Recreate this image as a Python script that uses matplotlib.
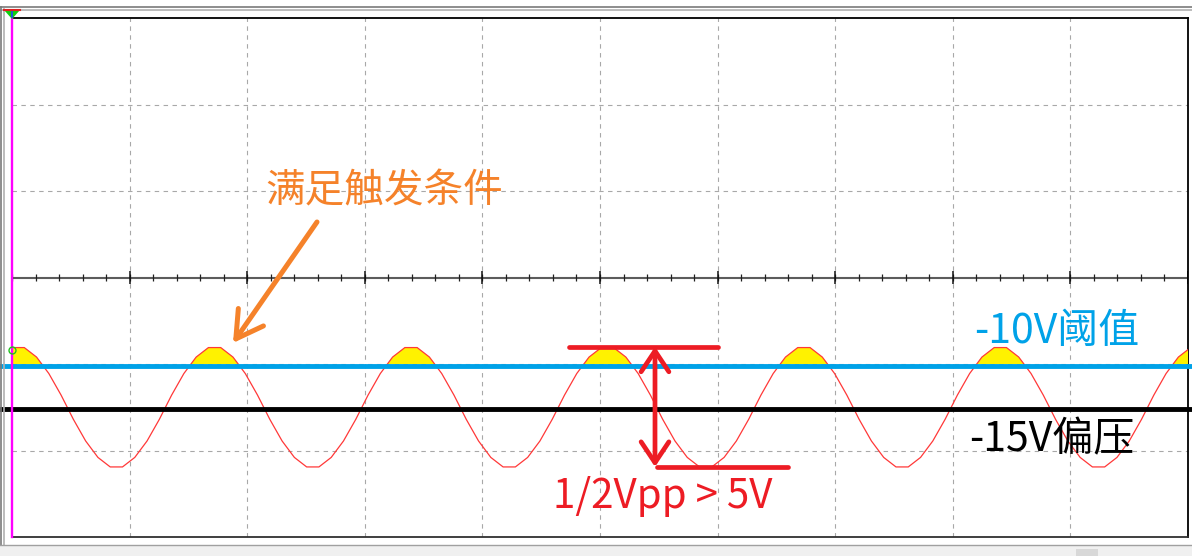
import numpy as np
import matplotlib
matplotlib.use('Agg')
import matplotlib.pyplot as plt
from matplotlib.patches import Rectangle, Polygon
from matplotlib.lines import Line2D

plt.rcParams['font.family'] = ['Noto Sans CJK SC', 'DejaVu Sans']

# scope screen: 10 divisions wide, 10 V/div, 0 V in the middle
x_divs = 10
v_per_div = 10
y_divs = 6

dt = 0.1044
wave_v = [
    -8.1, -8.1, -9.2, -11.1, -13.6, -16.4, -18.9, -20.8, -21.9, -21.9, -20.8, -18.9, -16.4, -13.6, -11.1, -9.2,
    -8.1, -8.1, -9.2, -11.1, -13.6, -16.4, -18.9, -20.8, -21.9, -21.9, -20.8, -18.9, -16.4, -13.6, -11.1, -9.2,
    -8.1, -8.1, -9.2, -11.1, -13.6, -16.4, -18.9, -20.8, -21.9, -21.9, -20.8, -18.9, -16.4, -13.6, -11.1, -9.2,
    -8.1, -8.1, -9.2, -11.1, -13.6, -16.4, -18.9, -20.8, -21.9, -21.9, -20.8, -18.9, -16.4, -13.6, -11.1, -9.2,
    -8.1, -8.1, -9.2, -11.1, -13.6, -16.4, -18.9, -20.8, -21.9, -21.9, -20.8, -18.9, -16.4, -13.6, -11.1, -9.2,
    -8.1, -8.1, -9.2, -11.1, -13.6, -16.4, -18.9, -20.8, -21.9, -21.9, -20.8, -18.9, -16.4, -13.6, -11.1, -9.2,
    -8.1,
]
threshold = -10.0
bias = -15.0
peak_v = -8.0
trough_v = -21.9

label_trigger = '满足触发条件'
label_threshold = '-10V阈值'
label_bias = '-15V偏压'
label_vpp = '1/2Vpp > 5V'

W, H = 1192, 556
fig = plt.figure(figsize=(W / 100, H / 100), dpi=100)
fig.patch.set_facecolor('white')


def fx(px):
    return px / W


def fy(py):
    return 1 - py / H


# window chrome
fig.add_artist(Line2D([0, 1], [fy(7), fy(7)], color='#7a7a7a', lw=1.2))
fig.add_artist(Line2D([0, 1], [fy(9.5), fy(9.5)], color='#b0b0b0', lw=1.2))
fig.add_artist(Line2D([fx(1), fx(1)], [fy(7), fy(545)], color='#7a7a7a', lw=1.2))
fig.add_artist(Line2D([fx(3.5), fx(3.5)], [fy(9), fy(545)], color='#b0b0b0', lw=1.2))
fig.add_artist(Rectangle((0, 0), 1, fy(545.5), transform=fig.transFigure,
                         facecolor='#f0f0f0', edgecolor='none'))
fig.add_artist(Line2D([0, 1], [fy(545), fy(545)], color='#a0a0a0', lw=1))
fig.add_artist(Rectangle((fx(1076), 0), fx(22), fy(549), transform=fig.transFigure,
                         facecolor='#d8d8d8', edgecolor='none'))

ax = fig.add_axes([fx(12), fy(537), fx(1176), (537 - 18) / H])
ax.set_xlim(0, x_divs)
ax.set_ylim(-v_per_div * y_divs / 2, v_per_div * y_divs / 2)
ax.set_xticks([])
ax.set_yticks([])
ax.spines['top'].set_color('black')
ax.spines['right'].set_color('black')
ax.spines['bottom'].set_color('#303030')
ax.spines['left'].set_color('#ff00ff')
for s in ax.spines.values():
    s.set_linewidth(1.3)
ax.spines['left'].set_linewidth(1.7)
ax.spines['left'].set_zorder(8)

# dashed grid
for i in range(1, x_divs):
    ax.axvline(i, color='#a8a8a8', lw=0.8, ls=(0, (4, 4)), zorder=1)
for j in range(1, y_divs // 2):
    ax.axhline(j * v_per_div, color='#a8a8a8', lw=0.8, ls=(0, (4, 4)), zorder=1)
    ax.axhline(-j * v_per_div, color='#a8a8a8', lw=0.8, ls=(0, (4, 4)), zorder=1)

# centre axis with ticks
ax.axhline(0, color='#5c5c5c', lw=1.5, zorder=2)
minor = np.arange(0, x_divs + 0.01, 0.2)
ax.vlines(minor, -0.35, 0.35, color='#202020', lw=0.9, zorder=2)
ax.vlines(np.arange(0, x_divs + 1), -0.75, 0.75, color='#101010', lw=1.1, zorder=2)

# waveform
t = np.arange(len(wave_v)) * dt
v = np.array(wave_v)
ax.fill_between(t, v, threshold, where=v > threshold, interpolate=True,
                color='#fff200', lw=0, zorder=3)
ax.plot(t, v, color='#ff3838', lw=0.9, zorder=4)

# threshold and bias lines span the whole window (hand-drawn, sit ~0.2 V low)
ax.plot([-1, x_divs + 1], [threshold - 0.2, threshold - 0.2], color='#00a2e8', lw=3.5,
        zorder=6, clip_on=False, solid_capstyle='butt')
ax.plot([-1, x_divs + 1], [bias - 0.2, bias - 0.2], color='black', lw=3.5,
        zorder=6, clip_on=False, solid_capstyle='butt')

# trigger level marker
ax.plot([0.0], [-8.4], marker='o', ms=5, mfc='none', mec='#20c020', mew=1,
        zorder=9, clip_on=False)

# trigger marker at top left
fig.add_artist(Polygon([(fx(4), fy(10)), (fx(20), fy(10)), (fx(12), fy(19))],
                       closed=True, transform=fig.transFigure,
                       facecolor='#10d010', edgecolor='none'))
fig.add_artist(Line2D([fx(4), fx(20)], [fy(10), fy(10)], color='#e02020', lw=1.5))
fig.add_artist(Line2D([fx(12), fx(12)], [fy(12), fy(17)], color='#2040ff', lw=1.2))

orange = '#f5822a'
red = '#ed1c24'
blue = '#00a2e8'


def tx(px):
    return (px - 12) / 117.6


def ty(py):
    return (277.5 - py) / 8.65


# orange arrow and label
ax.annotate('', xy=(tx(233), ty(343)), xytext=(tx(317), ty(222)),
            arrowprops=dict(arrowstyle='->,head_length=0.95,head_width=0.55',
                            color=orange, lw=3.6, mutation_scale=20,
                            shrinkA=0, shrinkB=0, capstyle='round', joinstyle='round'),
            zorder=7)
ax.text(tx(265), ty(202), label_trigger, color=orange, fontsize=28.5,
        ha='left', va='baseline', zorder=7)

# threshold / bias labels
ax.text(tx(974), ty(343), label_threshold, color=blue, fontsize=29.5,
        ha='left', va='baseline', zorder=7)
ax.text(tx(969), ty(451), label_bias, color='black', fontsize=29.5,
        ha='left', va='baseline', zorder=7)

# half Vpp annotation
ax.plot([tx(569), tx(718)], [peak_v, peak_v], color=red, lw=3.4, zorder=7,
        solid_capstyle='round')
ax.plot([tx(657), tx(788)], [trough_v, trough_v], color=red, lw=3.4, zorder=7,
        solid_capstyle='round')
ax.annotate('', xy=(tx(655), peak_v), xytext=(tx(655), trough_v),
            arrowprops=dict(arrowstyle='<->,head_length=0.75,head_width=0.5',
                            color=red, lw=3.4, mutation_scale=20,
                            shrinkA=0, shrinkB=0, capstyle='round', joinstyle='round'),
            zorder=7)
ax.text(tx(553), ty(508), label_vpp, color=red, fontsize=29,
        ha='left', va='baseline', zorder=7)

fig.savefig('out.png', dpi=100)
